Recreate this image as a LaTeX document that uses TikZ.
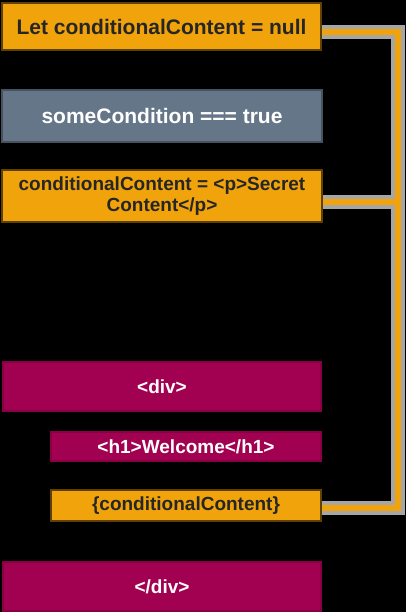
\documentclass[tikz,border=0pt]{standalone}
\usepackage{fontspec}
\setmainfont{Liberation Sans}
\usepackage{xcolor}
\usepackage{tikz}
\usetikzlibrary{positioning}

\definecolor{amber}{HTML}{F0A30A}
\definecolor{slate}{HTML}{647687}
\definecolor{crimson}{HTML}{A20050}

\begin{document}
\begin{tikzpicture}[x=1pt, y=-1pt, font=\bfseries\fontsize{19}{21}\selectfont]

	\tikzstyle{block}=[rectangle, inner sep=0pt, line width=1.5pt, align=center]
	\tikzstyle{big}=[font=\bfseries\fontsize{21}{23}\selectfont]
	\tikzstyle{jsbox}=[block, fill=amber, draw=amber!40!black, text=black!85]
	\tikzstyle{testbox}=[block, fill=slate, draw=slate!70!black, text=white]
	\tikzstyle{tagbox}=[block, fill=crimson, draw=crimson!85!black, text=white]
	\tikzstyle{wireback}=[draw=black!35, line width=14pt]
	\tikzstyle{wire}=[draw=amber, line width=6pt]

	% canvas
	\fill[black] (0,0) rectangle (406,612);
	\useasboundingbox (0,0) rectangle (406,612);

	% the script part
	\node[jsbox, big, minimum width=319pt, minimum height=47pt] (let) at (161.5,26.5) {Let conditionalContent = null};
	\node[testbox, big, minimum width=320pt, minimum height=52pt] (cond) at (162,116) {someCondition === true};
	\node[jsbox, minimum width=320pt, minimum height=52pt] (assign) at (162,196)
		{conditionalContent = <p>Secret\\Content</p>};

	% the markup part
	\node[tagbox, minimum width=318pt, minimum height=49pt] (open) at (162,386.5) {<div>};
	\node[tagbox, minimum width=270pt, minimum height=29pt] (head) at (186,446.5) {<h1>Welcome</h1>};
	\node[jsbox, minimum width=270pt, minimum height=31pt] (slot) at (186,505.5) {\{conditionalContent\}};
	\node[tagbox, minimum width=318pt, minimum height=49pt] (close) at (162,586.5) {</div>};

	% from the variable to where it is used
	\coordinate (bus) at (398,32);
	\draw[wireback] ([yshift=-5.5pt]let.east) -- (bus) |- ([yshift=-2.5pt]slot.east);
	\draw[wireback] ([yshift=-6pt]assign.east) -- ([yshift=-6pt]assign.east -| bus);
	\draw[wire] ([yshift=-5.5pt]let.east) -- (bus) |- ([yshift=-2.5pt]slot.east);
	\draw[wire] ([yshift=-6pt]assign.east) -- ([yshift=-6pt]assign.east -| bus);

\end{tikzpicture}
\end{document}
